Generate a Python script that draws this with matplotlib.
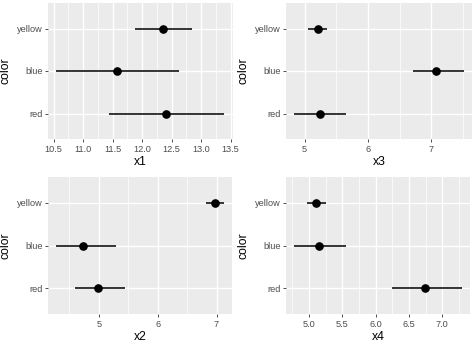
import numpy as np
import matplotlib
matplotlib.use("Agg")
import matplotlib.pyplot as plt
from matplotlib.ticker import MultipleLocator, FormatStrFormatter

plt.rcParams['font.family'] = ['Liberation Sans', 'DejaVu Sans']

groups = ["red", "blue", "yellow"]

# mean with lower / upper end of each interval, one set per variable
x1_mean = [12.41, 11.58, 12.36]
x1_lo = [11.43, 10.545, 11.87]
x1_hi = [13.39, 12.62, 12.84]

x3_mean = [5.24, 7.08, 5.21]
x3_lo = [4.84, 6.71, 5.06]
x3_hi = [5.66, 7.51, 5.35]

x2_mean = [4.98, 4.73, 6.97]
x2_lo = [4.59, 4.28, 6.82]
x2_hi = [5.45, 5.29, 7.12]

x4_mean = [6.74, 5.15, 5.11]
x4_lo = [6.24, 4.78, 4.97]
x4_hi = [7.29, 5.55, 5.26]

W, H = 474, 345
fig = plt.figure(figsize=(W / 100, H / 100), dpi=100)

def px_axes(x0, y0, x1, y1):
    # pixel box (top-left origin) -> figure fraction
    return fig.add_axes([x0 / W, 1 - y1 / H, (x1 - x0) / W, (y1 - y0) / H])

def panel(ax, name, mean, lo, hi, major, fmt):
    ypos = np.arange(1, len(groups) + 1)
    ax.set_facecolor("#EBEBEB")
    ax.hlines(ypos, lo, hi, color="black", lw=1.1, zorder=3)
    ax.plot(mean, ypos, "o", color="black", ms=5.2, zorder=4)
    ax.margins(x=0.05)
    ax.set_ylim(0.4, 3.6)
    ax.set_yticks(ypos)
    ax.set_yticklabels(groups)
    ax.xaxis.set_major_locator(MultipleLocator(major))
    ax.xaxis.set_minor_locator(MultipleLocator(major / 2))
    ax.xaxis.set_major_formatter(FormatStrFormatter(fmt))
    ax.grid(which="major", color="white", lw=1.0, zorder=0)
    ax.grid(which="minor", axis="x", color="white", lw=0.5, zorder=0)
    ax.set_axisbelow(True)
    for s in ax.spines.values():
        s.set_visible(False)
    ax.tick_params(which="major", length=2.5, width=0.6, color="#333333",
                   labelcolor="#4D4D4D", labelsize=6.6, pad=1.5)
    ax.tick_params(which="minor", length=0)
    ax.set_xlabel(name, fontsize=8.8, labelpad=2)
    ax.set_ylabel("color", fontsize=8.8, labelpad=3.5)

ax1 = px_axes(48, 3, 232.5, 139)
panel(ax1, "x1", x1_mean, x1_lo, x1_hi, 0.5, "%.1f")
ax3 = px_axes(286, 3, 472, 139)
panel(ax3, "x3", x3_mean, x3_lo, x3_hi, 1, "%d")
ax2 = px_axes(48, 177, 232, 314)
panel(ax2, "x2", x2_mean, x2_lo, x2_hi, 1, "%d")
ax4 = px_axes(286, 177, 470, 314)
panel(ax4, "x4", x4_mean, x4_lo, x4_hi, 0.5, "%.1f")

fig.savefig("out.png", dpi=100)
